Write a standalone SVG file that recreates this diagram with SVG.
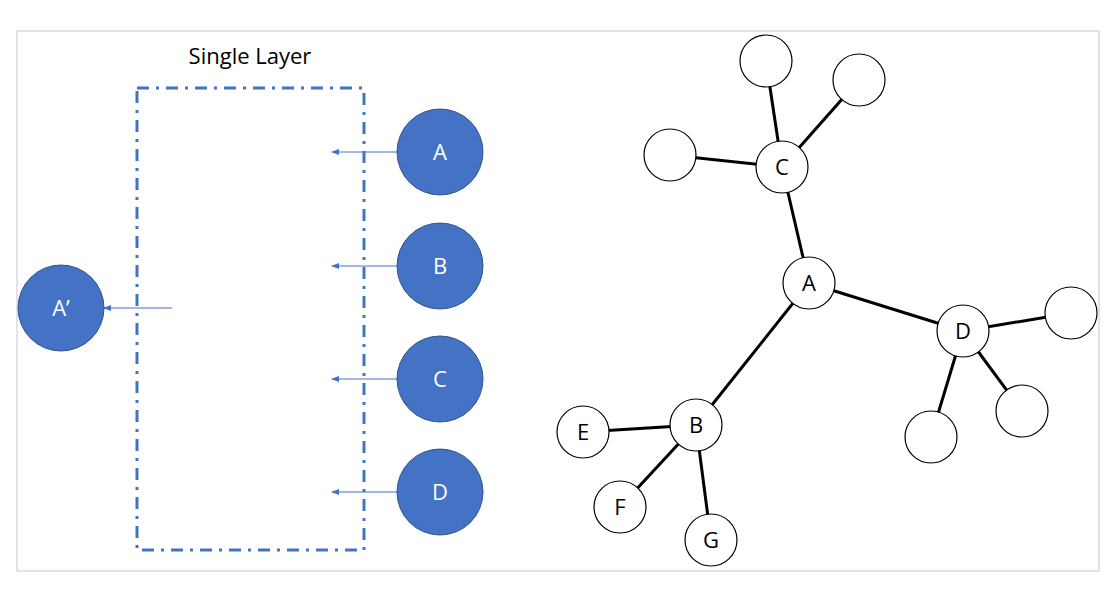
<svg xmlns="http://www.w3.org/2000/svg" width="1116" height="612" viewBox="0 0 1116 612">
<style>
.bn{fill:#4472C4;stroke:#2F528F;stroke-width:1}
.bt{fill:#fff;font-family:"Open Sans","Noto Sans",sans-serif;font-size:22px;text-anchor:middle}
.wn{fill:#fff;stroke:#000;stroke-width:1.2}
.wt{fill:#000;font-family:"Open Sans","Noto Sans",sans-serif;font-size:22px;text-anchor:middle}
.ar{stroke:#4472C4;stroke-width:1;marker-end:url(#ah)}
.ed{stroke:#000;stroke-width:3}
</style>
<defs><marker id="ah" markerWidth="8" markerHeight="6" refX="7" refY="3" orient="auto" markerUnits="userSpaceOnUse"><path d="M0,0 L8,3 L0,6 z" fill="#4472C4"/></marker></defs>
<rect x="0" y="0" width="1116" height="612" fill="#fff"/>
<rect x="17" y="31" width="1082" height="540" fill="none" stroke="#e3e3e3" stroke-width="2"/>
<text x="250" y="64" font-family="'Open Sans','Noto Sans',sans-serif" font-size="22" text-anchor="middle" fill="#000">Single Layer</text>
<rect x="137" y="88" width="227" height="462" fill="none" stroke="#4472C4" stroke-width="3" stroke-dasharray="12,7,3,7"/>
<g id="connectors">
<line class="ar" x1="397" y1="152" x2="332" y2="152"/>
<line class="ar" x1="397" y1="266" x2="332" y2="266"/>
<line class="ar" x1="397" y1="379" x2="332" y2="379"/>
<line class="ar" x1="397" y1="492" x2="332" y2="492"/>
<line class="ar" x1="172" y1="308" x2="104" y2="308"/>
<line class="ed" x1="782" y1="167" x2="766" y2="61"/>
<line class="ed" x1="782" y1="167" x2="859" y2="80"/>
<line class="ed" x1="782" y1="167" x2="670" y2="155"/>
<line class="ed" x1="782" y1="167" x2="809" y2="283"/>
<line class="ed" x1="809" y1="283" x2="963" y2="331"/>
<line class="ed" x1="809" y1="283" x2="696" y2="425"/>
<line class="ed" x1="963" y1="331" x2="1071" y2="313"/>
<line class="ed" x1="963" y1="331" x2="931" y2="437"/>
<line class="ed" x1="963" y1="331" x2="1022" y2="411"/>
<line class="ed" x1="696" y1="425" x2="583" y2="432"/>
<line class="ed" x1="696" y1="425" x2="620" y2="507"/>
<line class="ed" x1="696" y1="425" x2="711" y2="540"/>
</g>
<g id="nA"><circle class="bn" cx="440" cy="152" r="43"/><text class="bt" x="440" y="160">A</text></g>
<g id="nB"><circle class="bn" cx="440" cy="266" r="43"/><text class="bt" x="440" y="274">B</text></g>
<g id="nC"><circle class="bn" cx="440" cy="379" r="43"/><text class="bt" x="440" y="387">C</text></g>
<g id="nD"><circle class="bn" cx="440" cy="492" r="43"/><text class="bt" x="440" y="500">D</text></g>
<g id="nAp"><circle class="bn" cx="61" cy="308" r="43"/><text class="bt" x="61" y="316">A’</text></g>
<g id="tC1"><circle class="wn" cx="766" cy="61" r="26"/></g>
<g id="tC2"><circle class="wn" cx="859" cy="80" r="26"/></g>
<g id="tC3"><circle class="wn" cx="670" cy="155" r="26"/></g>
<g id="tC"><circle class="wn" cx="782" cy="167" r="26"/><text class="wt" x="782" y="175">C</text></g>
<g id="tA"><circle class="wn" cx="809" cy="283" r="26"/><text class="wt" x="809" y="291">A</text></g>
<g id="tD"><circle class="wn" cx="963" cy="331" r="26"/><text class="wt" x="963" y="339">D</text></g>
<g id="tD1"><circle class="wn" cx="1071" cy="313" r="26"/></g>
<g id="tD2"><circle class="wn" cx="931" cy="437" r="26"/></g>
<g id="tD3"><circle class="wn" cx="1022" cy="411" r="26"/></g>
<g id="tB"><circle class="wn" cx="696" cy="425" r="26"/><text class="wt" x="696" y="433">B</text></g>
<g id="tE"><circle class="wn" cx="583" cy="432" r="26"/><text class="wt" x="583" y="440">E</text></g>
<g id="tF"><circle class="wn" cx="620" cy="507" r="26"/><text class="wt" x="620" y="515">F</text></g>
<g id="tG"><circle class="wn" cx="711" cy="540" r="26"/><text class="wt" x="711" y="548">G</text></g>
</svg>
